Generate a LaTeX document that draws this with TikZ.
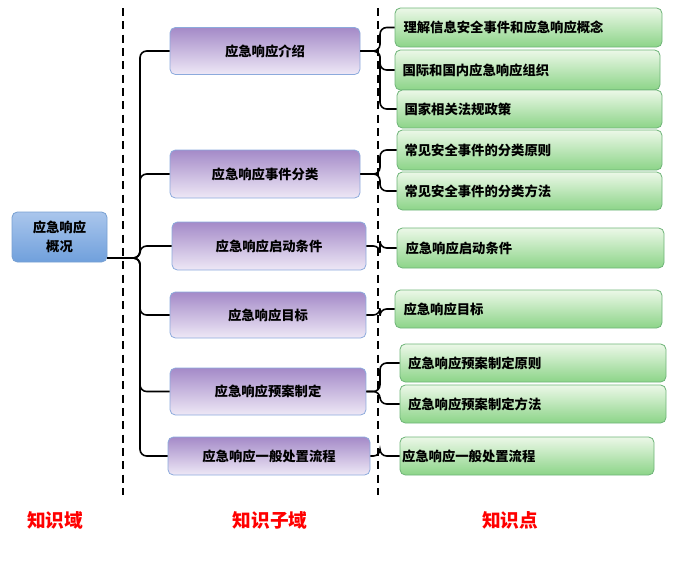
\documentclass[tikz,border=0pt]{standalone}
\usepackage{fontspec}
\setmainfont{Noto Sans CJK SC}
\definecolor{pb}{RGB}{140,170,220}
\definecolor{pt}{RGB}{164,138,200}
\definecolor{pl}{RGB}{238,232,246}
\definecolor{gb}{RGB}{110,180,120}
\definecolor{gt}{RGB}{236,248,232}
\definecolor{gl}{RGB}{140,212,136}
\definecolor{bb}{RGB}{120,160,210}
\definecolor{bt}{RGB}{170,198,236}
\definecolor{bl}{RGB}{112,160,220}
\begin{document}
\begin{tikzpicture}[x=0.75pt,y=-0.75pt,
 box/.style={rounded corners=4pt,draw=#1,line width=0.6pt,inner sep=0pt,font=\bfseries\fontsize{10}{12}\selectfont},
 pur/.style={box=pb,top color=pt,bottom color=pl},
 grn/.style={box=gb,top color=gt,bottom color=gl,align=left},
 blu/.style={box=bb,top color=bt,bottom color=bl,align=center},
 br/.style={line width=1.2pt,rounded corners=5pt},
 dl/.style={line width=1.2pt,dash pattern=on 6pt off 4pt},
 lab/.style={text=red,font=\bfseries\fontsize{14}{16}\selectfont}]
\useasboundingbox (0,0) rectangle (682,562);
% dashed lines
\coordinate (d1t) at (123,8); \coordinate (d1b) at (123,495);
\coordinate (d2t) at (378,8); \coordinate (d2b) at (378,495);
\draw[dl] (d1t) -- (d1b); \draw[dl] (d2t) -- (d2b);
% left
\node[blu,minimum width={95*0.75pt},minimum height={50*0.75pt}] (L) at (59.5,237) {应急响应\\[2pt]概况};
% middle
\node[pur,minimum width={190*0.75pt},minimum height={47*0.75pt}] (m1) at (265,51) {应急响应介绍};
\node[pur,minimum width={190*0.75pt},minimum height={48*0.75pt}] (m2) at (265,174) {应急响应事件分类};
\node[pur,minimum width={194*0.75pt},minimum height={48*0.75pt}] (m3) at (269,246) {应急响应启动条件};
\node[pur,minimum width={196*0.75pt},minimum height={46*0.75pt}] (m4) at (268,315) {应急响应目标};
\node[pur,minimum width={196*0.75pt},minimum height={47*0.75pt}] (m5) at (268,391.5) {应急响应预案制定};
\node[pur,minimum width={202*0.75pt},minimum height={38*0.75pt}] (m6) at (269,456) {应急响应一般处置流程};
% right
\tikzset{gn/.style={grn,minimum height={#1*0.75pt},text width={250*0.75pt}}}
\node[gn=39,minimum width={267*0.75pt}] (r1) at (528.5,27.5) {理解信息安全事件和应急响应概念};
\node[gn=40,minimum width={265*0.75pt}] (r2) at (527.5,70) {国际和国内应急响应组织};
\node[gn=38,minimum width={265*0.75pt}] (r3) at (529.5,109) {国家相关法规政策};
\node[gn=40,minimum width={265*0.75pt}] (r4) at (529.5,150) {常见安全事件的分类原则};
\node[gn=38,minimum width={265*0.75pt}] (r5) at (529.5,191) {常见安全事件的分类方法};
\node[gn=40,minimum width={267*0.75pt}] (r6) at (530.5,248) {应急响应启动条件};
\node[gn=38,minimum width={267*0.75pt}] (r7) at (528.5,309) {应急响应目标};
\node[gn=38,minimum width={266*0.75pt}] (r8) at (533,363) {应急响应预案制定原则};
\node[gn=38,minimum width={266*0.75pt}] (r9) at (533,404) {应急响应预案制定方法};
\node[gn=38,minimum width={254*0.75pt}] (r10) at (527,456) {应急响应一般处置流程};
% left brace
\coordinate (j0) at (130,258);
\draw[br] (L.east|-j0) -- (j0);
\foreach \m in {m1,m2,m3,m4,m5,m6}{
 \draw[br] (j0) -- (140,258) -- (140,0 |- \m.west) -- (\m.west);}
% right braces
\foreach \m/\rs in {m1/{r1,r2,r3},m2/{r4,r5},m3/{r6},m4/{r7},m5/{r8,r9},m6/{r10}}{
 \foreach \r in \rs {
  \draw[br] (\m.east) -- (380,0 |- \m.east) -- (380,0 |- \r.west) -- (\r.west);}}
% labels
\node[lab] (k1) at (55,520) {知识域};
\node[lab] (k2) at (270,520) {知识子域};
\node[lab] (k3) at (510,520) {知识点};
\end{tikzpicture}
\end{document}
